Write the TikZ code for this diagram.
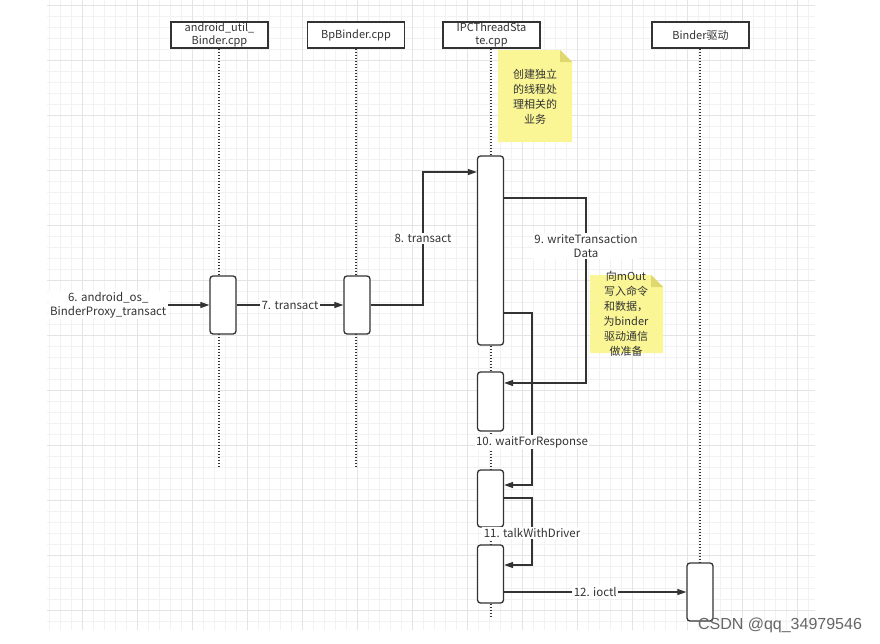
\documentclass[tikz,border=0pt]{standalone}
\usepackage{fontspec}
\setmainfont{Noto Sans CJK SC}
\newfontfamily\csdnfont{Liberation Sans}
\usetikzlibrary{arrows.meta}
\definecolor{ink}{HTML}{333333}
\definecolor{notey}{RGB}{250,246,150}
\definecolor{notefold}{RGB}{222,216,110}
\definecolor{gminorc}{RGB}{242,242,242}
\definecolor{gmajorc}{RGB}{228,228,228}
\begin{document}
\begin{tikzpicture}[x=1pt,y=-1pt,
 every node/.style={font=\fontsize{11.5}{14}\selectfont, text=ink},
 headbox/.style={draw=ink, line width=1.3pt, fill=white, minimum width=97pt, minimum height=26pt, align=center, inner sep=1pt, font=\fontsize{11}{13}\selectfont},
 actbox/.style={draw=ink, line width=1.3pt, fill=white, rounded corners=3pt, minimum width=26pt, inner sep=0pt},
 lifeline/.style={draw=ink, line width=1.3pt, dash pattern=on 1.2pt off 1.8pt},
 msg/.style={draw=ink, line width=1.2pt, -{Triangle[length=9pt,width=6pt]}},
 lbl/.style={fill=white, inner sep=1.5pt, align=center},
 notetext/.style={align=center, font=\fontsize{11}{15}\selectfont, text=ink},
 gminor/.style={draw=gminorc, line width=0.5pt},
 gmajor/.style={draw=gmajorc, line width=0.7pt}
]
\useasboundingbox (0,0) rectangle (880,643);
\fill[white] (0,0) rectangle (880,643);
% grid
\begin{scope}
\clip (47,0) rectangle (815,630);
\foreach \x in {49,60,...,815} \draw[gminor] (\x,0) -- (\x,630);
\foreach \y in {5,16,...,630} \draw[gminor] (47,\y) -- (815,\y);
\foreach \x in {82,137,...,815} \draw[gmajor] (\x,0) -- (\x,630);
\foreach \y in {5,60,...,630} \draw[gmajor] (47,\y) -- (815,\y);
\end{scope}

% head boxes
\node[headbox] (hA) at (219.5,35) {android\_util\_\\Binder.cpp};
\node[headbox] (hB) at (356,35) {BpBinder.cpp};
\node[headbox] (hC) at (491.5,35) {IPCThreadSta\\te.cpp};
\node[headbox] (hD) at (700.5,35) {Binder驱动};

% lifeline ends
\coordinate (eA) at (219,468);
\coordinate (eB) at (356,468);
\coordinate (eC) at (491,618);
\coordinate (eD) at (700,563);
\draw[lifeline] (hA.south -| eA) -- (eA);
\draw[lifeline] (hB.south -| eB) -- (eB);
\draw[lifeline] (hC.south -| eC) -- (eC);
\draw[lifeline] (hD.south -| eD) -- (eD);

% notes
\fill[notey] (498,50) -- (560,50) -- (572,62) -- (572,142) -- (498,142) -- cycle;
\fill[notefold] (560,50) -- (560,62) -- (572,62) -- cycle;
\node[notetext] (n1) at (535,97) {创建独立\\的线程处\\理相关的\\业务};
\fill[notey] (590,275) -- (651,275) -- (663,287) -- (663,353) -- (590,353) -- cycle;
\fill[notefold] (651,275) -- (651,287) -- (663,287) -- cycle;
\node[notetext] (n2) at (626,314) {向mOut\\写入命令\\和数据，\\为binder\\驱动通信\\做准备};

% activation boxes
\node[actbox, minimum height=58pt] (aA) at (223,305) {};
\node[actbox, minimum height=58pt] (aB) at (357,305) {};
\node[actbox, minimum height=189pt] (c1) at (490.5,250.5) {};
\node[actbox, minimum height=59pt] (c2) at (490.5,401.5) {};
\node[actbox, minimum height=57pt] (c3) at (490.5,498.5) {};
\node[actbox, minimum height=58pt] (c4) at (490.5,574) {};
\node[actbox, minimum height=58pt] (d1) at (700,592) {};

% messages
\coordinate (s6) at (168,305);
\node[lbl, anchor=east] (l6) at (s6) {6. android\_os\_\\BinderProxy\_transact};
\draw[msg] (s6) -- (aA.west);
\draw[msg] (aA.east) -- node[lbl] (l7) {7. transact} (aB.west);
\draw[msg] (aB.east) -- (423,305) -- node[lbl] (l8) {8. transact} (423,172) -- (c1.west |- 0,172);
\draw[msg] (c1.east |- 0,198) -- (586,198) -- node[lbl, pos=0.26] (l9) {9. writeTransaction\\Data} (586,383) -- (c2.east |- 0,383);
\draw[msg] (c1.east |- 0,313) -- (532,313) -- node[lbl, pos=0.75] (l10) {10. waitForResponse} (532,485) -- (c3.east |- 0,485);
\draw[msg] (c3.east |- 0,498) -- (532,498) -- node[lbl, pos=0.52] (l11) {11. talkWithDriver} (532,565) -- (c4.east |- 0,565);
\draw[msg] (c4.east |- 0,592) -- node[lbl] (l12) {12. ioctl} (d1.west |- 0,592);

% watermark text
\node[font=\csdnfont\fontsize{16}{18}\selectfont, text=black!60] (wm) at (780,625) {CSDN @qq\_34979546};
\end{tikzpicture}
\end{document}
